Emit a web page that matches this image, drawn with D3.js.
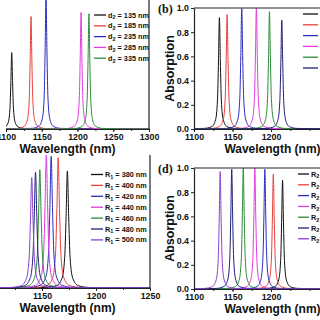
<!DOCTYPE html>
<html>
<head>
<meta charset="utf-8">
<script src="https://cdn.jsdelivr.net/npm/d3@7"></script>
<style>
  body { margin: 0; background: #fff; }
  svg { display: block; font-family: "Liberation Sans", Arial, sans-serif; }
</style>
</head>
<body>
<div id="chart"></div>
<script>
// sampling grid around each resonance (nm from the peak centre)
const offsets = [-300, -60, -20, -10, -5, -2.5, -1.2, 0, 1.2, 2.5, 5, 10, 20, 60, 300];

const black = "#111111", red = "#e8413c", blue = "#2b2bbf", magenta = "#e03ce0",
      green = "#2e8b3a", navy = "#1f1f78", violet = "#8a3fd6";

// (a) d2 sweep
const aLabels = ["135", "185", "235", "285", "335"];
const aColors = [black, red, blue, magenta, green];
const aCenters = [1108, 1135, 1156, 1205, 1216];
const aValues = [
  [0, .001, .003, .012, .047, .148, .348, .57, .348, .148, .047, .012, .003, .001, 0],
  [0, .001, .004, .018, .070, .218, .512, .84, .512, .218, .070, .018, .004, .001, 0],
  [0, .001, .005, .021, .083, .260, .610, 1.0, .610, .260, .083, .021, .005, .001, 0],
  [0, .001, .004, .018, .072, .226, .531, .87, .531, .226, .072, .018, .004, .001, 0],
  [0, .001, .004, .018, .071, .224, .525, .86, .525, .224, .071, .018, .004, .001, 0]
];

// (b)
const bColors = [black, red, blue, magenta, green, navy];
const bCenters = [1133, 1143, 1162, 1181, 1198, 1214];
const bValues = [
  [0, .001, .005, .019, .076, .239, .561, .92, .561, .239, .076, .019, .005, .001, 0],
  [0, .001, .005, .020, .078, .246, .576, .945, .576, .246, .078, .020, .005, .001, 0],
  [0, .001, .005, .021, .083, .259, .607, .995, .607, .259, .083, .021, .005, .001, 0],
  [0, .001, .005, .021, .083, .260, .610, 1.0, .610, .260, .083, .021, .005, .001, 0],
  [0, .001, .005, .020, .080, .252, .592, .97, .592, .252, .080, .020, .005, .001, 0],
  [0, .001, .005, .019, .075, .234, .549, .90, .549, .234, .075, .019, .005, .001, 0]
];

// (c) R1 sweep
const cLabels = ["380", "400", "420", "440", "460", "480", "500"];
const cColors = [black, red, blue, magenta, green, navy, violet];
const cCenters = [1173.5, 1165, 1158.5, 1154, 1148, 1144, 1140.5];
const cValues = [
  [0, .001, .004, .018, .073, .229, .537, .88, .537, .229, .073, .018, .004, .001, 0],
  [0, .001, .005, .021, .081, .255, .598, .98, .598, .255, .081, .021, .005, .001, 0],
  [0, .001, .005, .021, .082, .257, .604, .99, .604, .257, .082, .021, .005, .001, 0],
  [0, .001, .005, .021, .083, .260, .610, 1.0, .610, .260, .083, .021, .005, .001, 0],
  [0, .001, .004, .019, .074, .231, .543, .89, .543, .231, .074, .019, .004, .001, 0],
  [0, .001, .004, .018, .072, .226, .531, .87, .531, .226, .072, .018, .004, .001, 0],
  [0, .001, .004, .017, .069, .216, .506, .83, .506, .216, .069, .017, .004, .001, 0]
];

// (d)
const dColors = [black, red, blue, magenta, green, navy, violet];
const dCenters = [1215, 1203, 1192, 1179, 1164, 1149, 1134];
const dValues = [
  [0, .001, .005, .019, .075, .234, .549, .90, .549, .234, .075, .019, .005, .001, 0],
  [0, .001, .005, .020, .079, .247, .580, .95, .580, .247, .079, .020, .005, .001, 0],
  [0, .001, .005, .021, .082, .257, .604, .99, .604, .257, .082, .021, .005, .001, 0],
  [0, .001, .005, .021, .083, .260, .610, 1.0, .610, .260, .083, .021, .005, .001, 0],
  [0, .001, .005, .021, .083, .260, .610, 1.0, .610, .260, .083, .021, .005, .001, 0],
  [0, .001, .005, .021, .082, .257, .604, .99, .604, .257, .082, .021, .005, .001, 0],
  [0, .001, .005, .020, .080, .252, .592, .97, .592, .252, .080, .020, .005, .001, 0]
];

const yTicks = [0, 0.2, 0.4, 0.6, 0.8, 1.0];

const svg = d3.select("#chart").append("svg")
  .attr("width", 320)
  .attr("height", 320);

svg.append("rect").attr("width", 320).attr("height", 320).attr("fill", "#fff");

let clipId = 0;

function drawPanel(p) {
  const x = d3.scaleLinear().domain(p.domain).range(p.xRange);
  const y = d3.scaleLinear().domain([0, 1]).range(p.yRange);
  const g = svg.append("g");

  const id = "clip" + (clipId++);
  svg.append("clipPath").attr("id", id)
    .append("rect")
    .attr("x", p.xRange[0]).attr("y", p.yRange[1])
    .attr("width", p.xRange[1] - p.xRange[0])
    .attr("height", p.yRange[0] - p.yRange[1]);

  const line = d3.line()
    .x(d => x(d[0]))
    .y(d => y(d[1]))
    .curve(d3.curveMonotoneX);

  const curves = g.append("g").attr("clip-path", `url(#${id})`);
  p.centers.forEach((c, i) => {
    const pts = offsets.map((o, k) => [c + o, p.values[i][k]]);
    curves.append("path")
      .attr("d", line(pts))
      .attr("fill", "none")
      .attr("stroke", p.colors[i])
      .attr("stroke-width", 1);
  });

  // x axis with minor ticks
  const minor = d3.range(p.domain[0], p.domain[1] + 1, 25);
  g.append("g")
    .attr("transform", `translate(0,${p.yRange[0]})`)
    .call(d3.axisBottom(x).tickValues(minor).tickSize(2).tickFormat(""))
    .call(a => a.select(".domain").remove())
    .selectAll("line").attr("stroke", "#222");

  const xAxis = g.append("g")
    .attr("transform", `translate(0,${p.yRange[0]})`)
    .call(d3.axisBottom(x).tickValues(p.xTicks).tickSize(3).tickPadding(1.5)
      .tickFormat(d3.format("d")).tickSizeOuter(0));
  xAxis.select(".domain").attr("stroke", "#222").attr("stroke-width", 1.2);
  xAxis.selectAll("line").attr("stroke", "#222");
  xAxis.selectAll("text")
    .attr("fill", "#111")
    .style("font-size", "8.8px")
    .style("font-weight", "bold");

  svg.append("text")
    .attr("x", p.titleX)
    .attr("y", p.yRange[0] + 23.5)
    .attr("text-anchor", "middle")
    .style("font-size", "12px")
    .style("font-weight", "bold")
    .attr("fill", "#111")
    .text("Wavelength (nm)");

  // frame
  if (p.yAxis) {
    const yAxis = g.append("g")
      .attr("transform", `translate(${p.xRange[0]},0)`)
      .call(d3.axisLeft(y).tickValues(yTicks).tickSize(3).tickPadding(2)
        .tickFormat(d3.format(".1f")).tickSizeOuter(0));
    yAxis.select(".domain").attr("stroke", "#222").attr("stroke-width", 1.2);
    yAxis.selectAll("line").attr("stroke", "#222");
    yAxis.selectAll("text")
      .attr("fill", "#111")
      .style("font-size", "8.8px")
      .style("font-weight", "bold");

    g.append("line")
      .attr("x1", p.xRange[0]).attr("x2", p.xRange[1])
      .attr("y1", p.yRange[1]).attr("y2", p.yRange[1])
      .attr("stroke", "#222").attr("stroke-width", 1.2);

    svg.append("text")
      .attr("transform", `translate(${p.xRange[0] - 20},${(p.yRange[0] + p.yRange[1]) / 2}) rotate(-90)`)
      .attr("text-anchor", "middle")
      .style("font-size", "12.5px")
      .style("font-weight", "bold")
      .attr("fill", "#111")
      .text("Absorption");

    svg.append("text")
      .attr("x", p.xRange[0] - 36)
      .attr("y", p.yRange[1] + 5)
      .style("font-family", "'Liberation Serif', 'Times New Roman', serif")
      .style("font-size", "12px")
      .style("font-weight", "bold")
      .attr("fill", "#111")
      .text(p.tag);
  } else {
    g.append("line")
      .attr("x1", p.xRange[1]).attr("x2", p.xRange[1])
      .attr("y1", p.yRange[0]).attr("y2", p.yRange[1])
      .attr("stroke", "#222").attr("stroke-width", 1.2);
  }

  // legend
  const leg = svg.append("g");
  p.colors.forEach((col, i) => {
    const ly = p.legend.y + i * p.legend.dy;
    leg.append("line")
      .attr("x1", p.legend.x).attr("x2", p.legend.x + p.legend.len)
      .attr("y1", ly).attr("y2", ly)
      .attr("stroke", col).attr("stroke-width", 1.3);
    if (p.legend.sym) {
      const t = leg.append("text")
        .attr("x", p.legend.x + p.legend.len + 2)
        .attr("y", ly + 2.5)
        .style("font-size", "7.3px")
        .style("font-weight", "bold")
        .attr("fill", "#111");
      t.append("tspan").text(p.legend.sym);
      t.append("tspan").attr("dy", 1.8).style("font-size", "5.5px").text(p.legend.sub);
      if (p.legend.labels) {
        t.append("tspan").attr("dy", -1.8).text(` = ${p.legend.labels[i]} nm`);
      }
    }
  });
}

drawPanel({
  domain: [1100, 1300], xRange: [6, 149], yRange: [129, -5],
  xTicks: [1100, 1150, 1200, 1250, 1300], titleX: 67.5, yAxis: false,
  centers: aCenters, values: aValues, colors: aColors,
  legend: { x: 94, y: 15, dy: 10.8, len: 12, sym: "d", sub: "2", labels: aLabels }
});

drawPanel({
  domain: [1100, 1300], xRange: [194, 348], yRange: [129, 8],
  xTicks: [1100, 1150, 1200], titleX: 272.5, yAxis: true, tag: "(b)",
  centers: bCenters, values: bValues, colors: bColors,
  legend: { x: 303, y: 14, dy: 10.8, len: 15 }
});

drawPanel({
  domain: [1100, 1250], xRange: [-12, 150], yRange: [288, 155],
  xTicks: [1150, 1200, 1250], titleX: 67.5, yAxis: false,
  centers: cCenters, values: cValues, colors: cColors,
  legend: { x: 91, y: 174.5, dy: 10.9, len: 12, sym: "R", sub: "1", labels: cLabels }
});

drawPanel({
  domain: [1100, 1300], xRange: [194, 348], yRange: [289, 168],
  xTicks: [1100, 1150, 1200], titleX: 272.5, yAxis: true, tag: "(d)",
  centers: dCenters, values: dValues, colors: dColors,
  legend: { x: 298, y: 174, dy: 10.8, len: 11, sym: "R", sub: "2" }
});
</script>
</body>
</html>
